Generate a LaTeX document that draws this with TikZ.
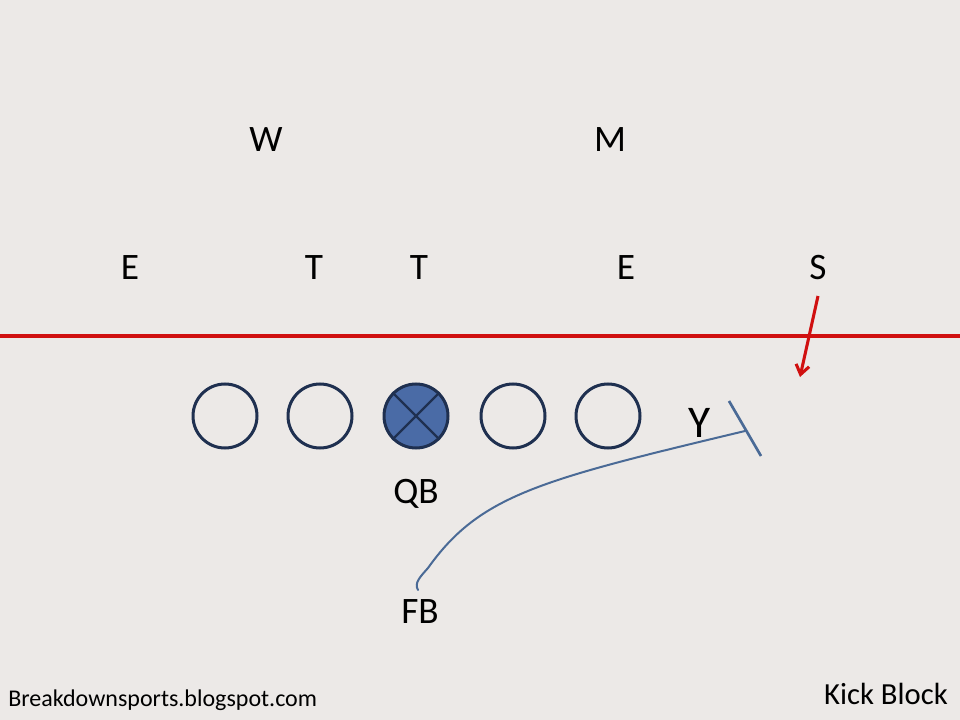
\documentclass[tikz,border=0pt]{standalone}
\usepackage{fontspec}
\setmainfont{Carlito}
\usetikzlibrary{arrows.meta}
\definecolor{bg}{HTML}{ECE9E7}
\definecolor{navy}{HTML}{1F3050}
\definecolor{qbfill}{HTML}{4A6BA6}
\definecolor{route}{HTML}{4A6A96}
\definecolor{redline}{HTML}{D01010}
\begin{document}
\begin{tikzpicture}[x=0.75pt,y=-0.75pt,
  lbl/.style={inner sep=0pt,font=\fontsize{28}{30}\selectfont,text=black},
  player/.style={circle,draw=navy,line width=2.25pt,minimum size=48pt,inner sep=0pt},
  foot/.style={inner sep=0pt,text=black}]
\fill[bg] (0,0) rectangle (960,720);
\useasboundingbox (0,0) rectangle (960,720);
% defense
\node[lbl] (w) at (266,140) {W};
\node[lbl] (m) at (610,140) {M};
\node[lbl] (e1) at (130,268) {E};
\node[lbl] (t1) at (314,268) {T};
\node[lbl] (t2) at (419,268) {T};
\node[lbl] (e2) at (626,268) {E};
\node[lbl] (s) at (818,268) {S};
% line of scrimmage
\coordinate (losl) at (0,336);
\coordinate (losr) at (960,336);
\draw[redline,line width=2.7pt] (losl) -- (losr);
% S rush
\coordinate (sa) at (818,296);
\coordinate (sb) at (800,377);
\draw[redline,line width=2.3pt,-{Straight Barb[length=7pt,width=10pt,line width=2.3pt]}] (sa) -- (sb);
% offense
\node[player] (o1) at (225,416) {};
\node[player] (o2) at (320,416) {};
\node[player,fill=qbfill] (c) at (416,416) {};
\draw[navy,line width=1.8pt] (c.north east) -- (c.south west) (c.north west) -- (c.south east);
\node[player] (o4) at (513,416) {};
\node[player] (o5) at (608,416) {};
\node[inner sep=0pt,font=\fontsize{34}{36}\selectfont] (y) at (700,423) {Y};
\node[lbl] (qb) at (416,494) {QB};
\node[lbl] (fb) at (420,612) {FB};
% FB route to kick block
\coordinate (fbs) at (418,590);
\coordinate (fbk) at (428,568);
\coordinate (blk) at (745,431);
\coordinate (bar1) at (729,401);
\coordinate (bar2) at (761,456);
\draw[route,line width=1.5pt,line cap=round] (fbs) .. controls (414,583) and (420,577) .. (fbk)
  .. controls (480,495) and (540,480) .. (blk);
\draw[route,line width=2pt] (bar1) -- (bar2);
% footer
\node[foot,anchor=base west,font=\fontsize{18}{20}\selectfont] (site) at (8,706) {Breakdownsports.blogspot.com};
\node[foot,anchor=base east,font=\fontsize{23}{25}\selectfont] (title) at (948,704) {Kick Block};
\end{tikzpicture}
\end{document}
